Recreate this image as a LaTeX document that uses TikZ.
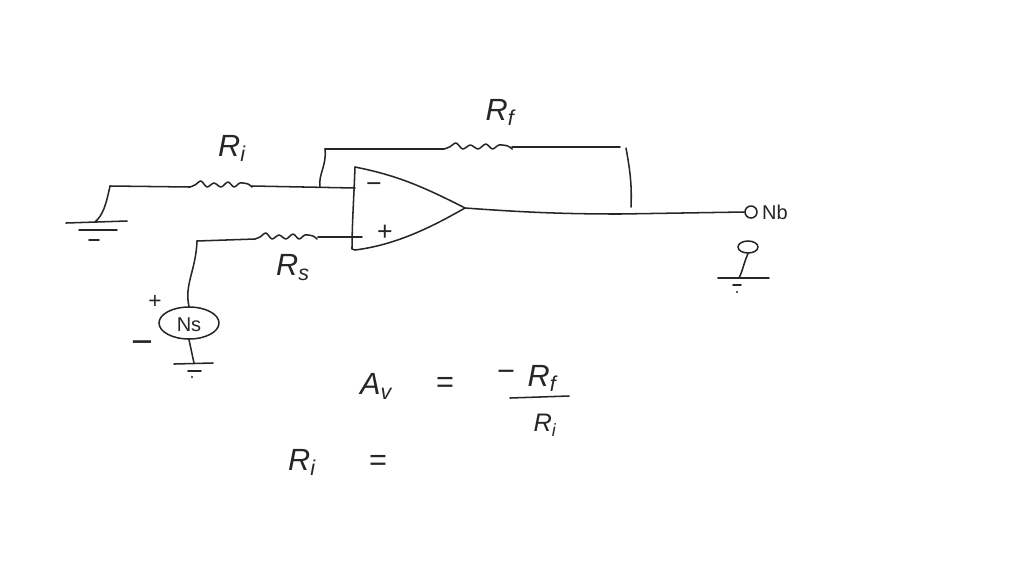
\documentclass[tikz,border=0pt]{standalone}
\usepackage{fontspec}
\setmainfont{Liberation Sans}
\usetikzlibrary{shapes.geometric}
\tikzset{
	wire/.style={line width=1.15pt,line cap=round,line join=round,color=black!85},
	hand/.style={inner sep=0pt,color=black!85,font=\fontsize{23}{23}\selectfont\itshape},
	handsmall/.style={inner sep=0pt,color=black!85,font=\fontsize{15}{15}\selectfont},
	coil/.pic={\draw[wire] plot[smooth,tension=0.5] coordinates {(0,0) (5,-2) (11,-6) (17,0) (24,-4) (31,0) (38,-5) (44,0) (50,-4) (58,-3) (62,0)};}
}

\begin{document}
\begin{tikzpicture}[x=0.75pt,y=-0.75pt]
	\useasboundingbox (0,0) rectangle (1024,576);

	% punkte
	\coordinate (inleft) at (110,186);
	\coordinate (rione) at (190,187);
	\coordinate (ritwo) at (252,186);
	\coordinate (fbtap) at (320,187);
	\coordinate (inminus) at (355,188);
	\coordinate (fbtop) at (325,149);
	\coordinate (rfone) at (444,149);
	\coordinate (rftwo) at (512,147);
	\coordinate (fbend) at (620,147);
	\coordinate (fbdown) at (626,148);
	\coordinate (fbout) at (631,207);
	\coordinate (rsleft) at (197,241);
	\coordinate (rsone) at (255,239);
	\coordinate (rstwo) at (318,237);
	\coordinate (inplus) at (362,237);
	\coordinate (optop) at (355,167);
	\coordinate (opbot) at (355,250);
	\coordinate (optip) at (465,208);

	% Erde links
	\coordinate (gndone) at (95,222);
	\draw[wire] (66,223) coordinate (gndonea) -- (127,221) coordinate (gndoneb);
	\draw[wire] (79,230) coordinate (gndonec) -- (117,230) coordinate (gndoned);
	\draw[wire] (89,240) coordinate (gndonee) -- (99,240) coordinate (gndonef);
	\draw[wire] (gndone) .. controls (103,215) and (106,205) .. (inleft);

	% Eingang
	\draw[wire] (inleft) -- (rione);
	\pic at (rione) {coil};
	\draw[wire] (ritwo) -- (inminus);

	% Rueckkopplung
	\draw[wire] (fbtap) .. controls (318,175) and (327,165) .. (fbtop);
	\draw[wire] (fbtop) -- (rfone);
	\pic[xscale=1.1] at (rfone) {coil};
	\draw[wire] (rftwo) -- (fbend);
	\draw[wire] (fbdown) .. controls (630,170) and (632,185) .. (fbout);

	% Verstaerker
	\draw[wire] (optop) .. controls (354,195) and (352,225) .. (352,249) -- (opbot);
	\draw[wire] (optop) .. controls (395,175) and (420,185) .. (optip);
	\draw[wire] (optip) .. controls (430,228) and (395,245) .. (opbot);
	\node[handsmall] (minus) at (374,188) {\fontsize{20}{20}\selectfont −};
	\node[handsmall] (plus) at (385,233) {\fontsize{20}{20}\selectfont +};

	% zweiter Eingang
	\draw[wire] (rsleft) -- (rsone);
	\pic at (rsone) {coil};
	\draw[wire] (rstwo) -- (inplus);

	% Quelle
	\node[ellipse,draw,wire,minimum width=60pt*0.75,minimum height=32pt*0.75,inner sep=0pt] (source) at (189,323) {};
	\node[handsmall] (sourcetext) at (189,325) {Ns};
	\draw[wire] (rsleft) .. controls (196,270) and (184,285) .. (source.north);
	\node[handsmall] (sourceplus) at (155,302) {\fontsize{17}{17}\selectfont +};
	\node[handsmall] (sourceminus) at (142,348) {\fontsize{28}{28}\selectfont −};
	\coordinate (gndtwo) at (194,363);
	\draw[wire] (source.south) -- (gndtwo);
	\draw[wire] (174,364) coordinate (gndtwoa) -- (213,363) coordinate (gndtwob);
	\draw[wire] (188,371) coordinate (gndtwoc) -- (201,371) coordinate (gndtwod);
	\fill[color=black!85] (192,377) circle [radius=1.2];

	% Ausgang
	\node[circle,draw,wire,minimum size=9pt,inner sep=0pt] (outpin) at (751,212) {};
	\node[handsmall] (outtext) at (775,212) {Nb};
	\draw[wire] (optip) .. controls (520,212) and (560,214) .. (620,214) -- (outpin.west);

	% Messpunkt
	\node[ellipse,draw,wire,minimum width=15pt,minimum height=9pt,inner sep=0pt] (probe) at (748,247) {};
	\coordinate (gndthree) at (739,278);
	\draw[wire] (probe.south) .. controls (744,262) and (743,270) .. (gndthree);
	\draw[wire] (718,278) coordinate (gndthreea) -- (769,278) coordinate (gndthreeb);
	\draw[wire] (733,285) coordinate (gndthreec) -- (741,285) coordinate (gndthreed);
	\fill[color=black!85] (737,292) circle [radius=1.2];

	% Beschriftung
	\node[hand] (rilabel) at (232,148) {R\textsubscript{i}};
	\node[hand] (rflabel) at (500,112) {R\textsubscript{f}};
	\node[hand] (rslabel) at (293,268) {R\textsubscript{s}};

	% Formeln
	\node[hand] (avlabel) at (376,386) {A\textsubscript{v}};
	\node[hand,font=\fontsize{23}{23}\selectfont] (eqone) at (445,385) {=};
	\node[hand,font=\fontsize{23}{23}\selectfont] (fracminus) at (506,376) {−};
	\node[hand] (fractop) at (542,378) {R\textsubscript{f}};
	\draw[wire] (510,398) coordinate (barleft) -- (569,396) coordinate (barright);
	\node[hand,font=\fontsize{19}{19}\selectfont\itshape] (fracbot) at (545,425) {R\textsubscript{i}};
	\node[hand] (rilower) at (302,462) {R\textsubscript{i}};
	\node[hand,font=\fontsize{23}{23}\selectfont] (eqtwo) at (378,463) {=};

\end{tikzpicture}
\end{document}
